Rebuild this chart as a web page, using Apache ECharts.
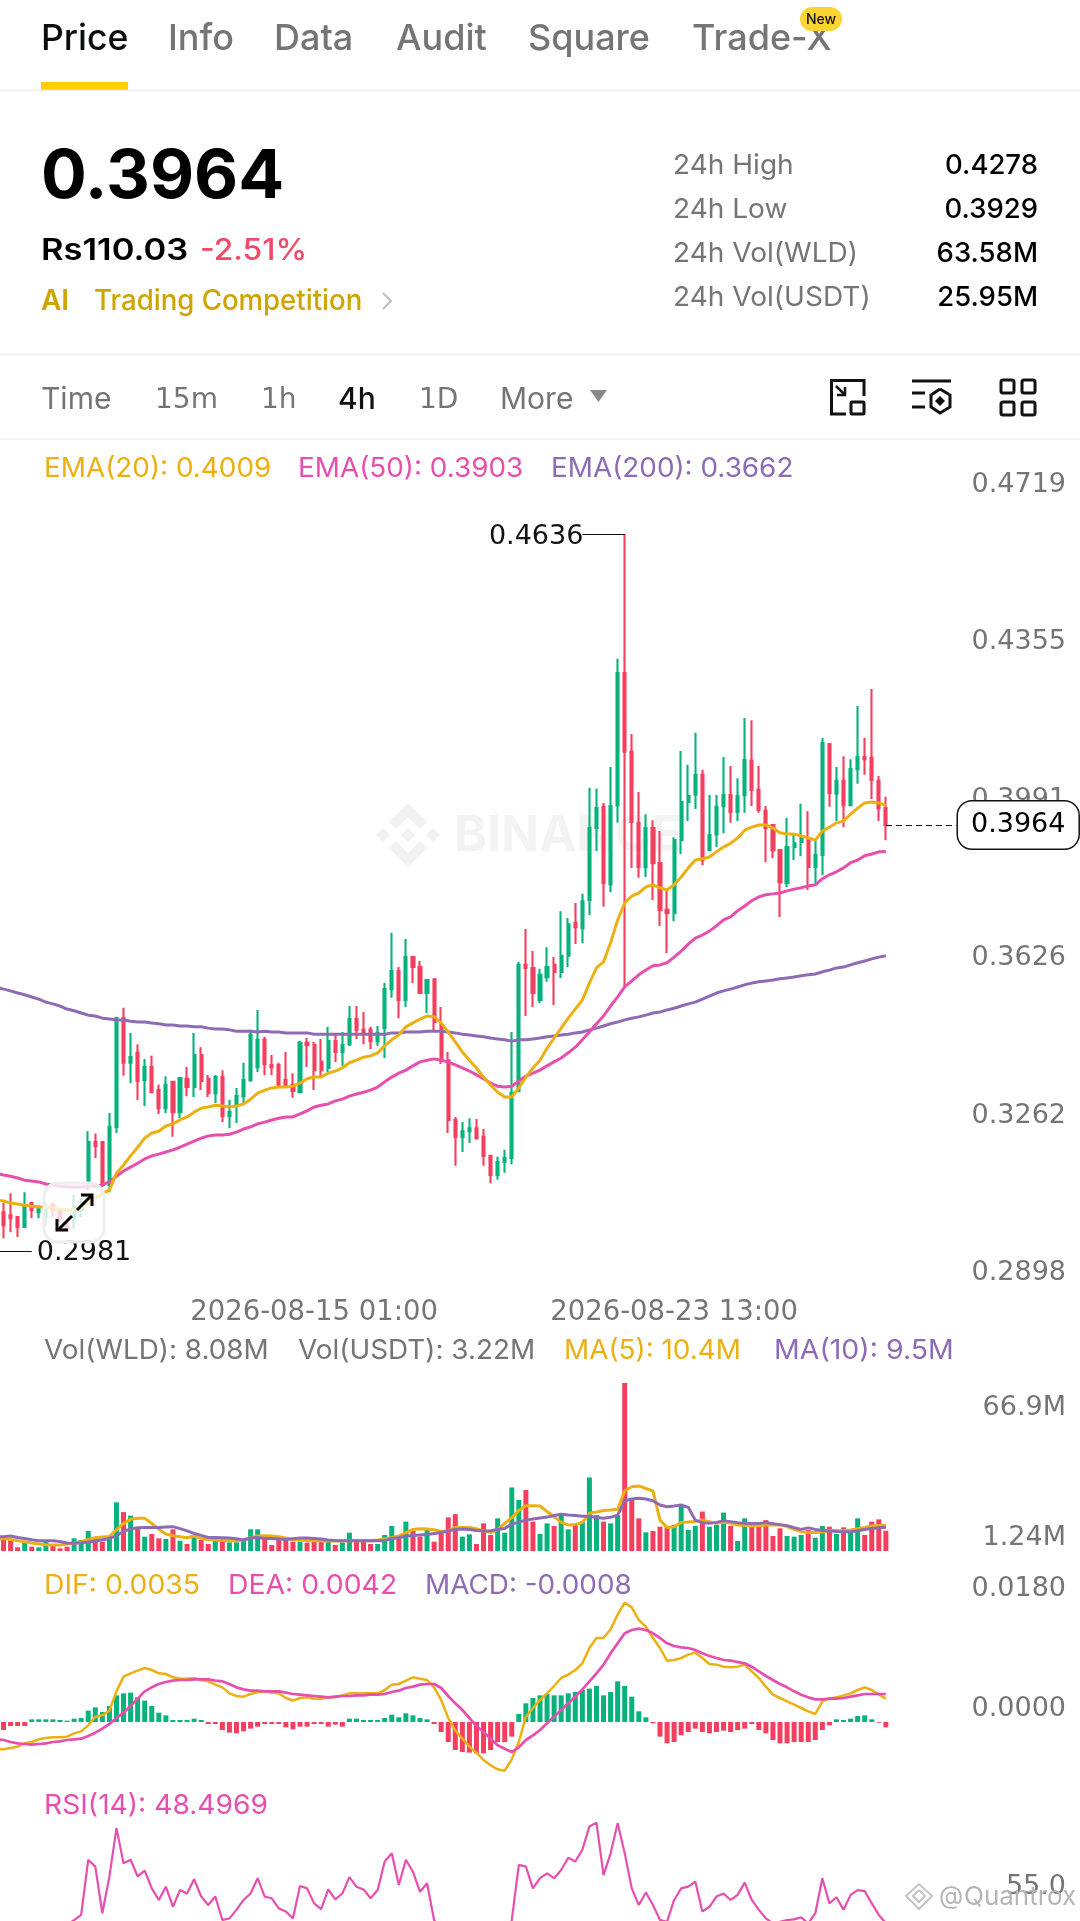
<!DOCTYPE html>
<html><head><meta charset="utf-8">
<style>html,body{margin:0;padding:0;background:#fff}#c{width:1080px;height:1921px}</style>
<script src="https://cdn.jsdelivr.net/npm/echarts@6/dist/echarts.min.js"></script>
</head><body><div id="c"></div>
<script>
const opens=[.3063,
.3070,.3063,.3059,.3036,.3091,.3070,.3059,.3086,.3075,.3043,
.3056,.3075,.3140,.3232,.3232,.3133,.3267,.3518,.3415,.3438,
.3375,.3405,.3352,.3310,.3371,.3301,.3378,.3359,.3433,.3378,
.3345,.3382,.3292,.3317,.3338,.3375,.3405,.3468,.3410,.3410,
.3375,.3364,.3347,.3461,.3456,.3417,.3403,.3465,.3440,.3458,
.3516,.3491,.3491,.3465,.3495,.3585,.3627,.3560,.3659,.3636,
.3576,.3608,.3498,.3421,.3283,.3244,.3257,.3264,.3244,.3200,
.3156,.3186,.3195,.3350,.3641,.3634,.3560,.3613,.3641,.3625,
.3662,.3738,.3726,.3791,.3957,.4006,.3827,.4010,.4315,.4133,
.3969,.3867,.3957,.3876,.3768,.3761,.3929,.4017,.4034,.4080,
.3906,.3943,.4008,.4033,.3994,.4033,.4112,.4045,.3997,.3964,
.3906,.3830,.3913,.3925,.3934,.3867,.3895,.4151,.4036,.4066,
.4010,.4093,.4121,.4119,.4066,.4003];
const closes=[.3017,
.3040,.3056,.3036,.3082,.3075,.3080,.3080,.3075,.3056,.3029,
.3082,.3082,.3232,.3223,.3133,.3267,.3518,.3415,.3428,.3373,
.3405,.3347,.3310,.3364,.3301,.3380,.3359,.3433,.3373,.3345,
.3382,.3292,.3301,.3338,.3375,.3479,.3468,.3412,.3405,.3364,
.3364,.3350,.3461,.3456,.3398,.3398,.3465,.3440,.3456,.3516,
.3491,.3481,.3465,.3484,.3585,.3627,.3560,.3659,.3636,.3576,
.3606,.3509,.3424,.3283,.3244,.3257,.3264,.3241,.3200,.3156,
.3186,.3195,.3345,.3641,.3634,.3576,.3618,.3636,.3625,.3662,
.3735,.3728,.3788,.3957,.4003,.3830,.4008,.4315,.4133,.3971,
.3867,.3957,.3876,.3768,.3761,.3929,.4017,.4031,.4080,.3883,
.3941,.4006,.4033,.3994,.4031,.4114,.4045,.3999,.3957,.3906,
.3832,.3913,.3922,.3932,.3867,.3895,.4153,.4038,.4066,.4010,
.4093,.4121,.4116,.4068,.4003,.3964];
const lows=[.2981,
.3010,.3024,.3013,.3036,.3056,.3056,.3040,.3059,.3045,.3029,
.3031,.3059,.3121,.3195,.3128,.3116,.3253,.3385,.3368,.3329,
.3315,.3347,.3297,.3299,.3244,.3287,.3338,.3336,.3352,.3336,
.3322,.3278,.3264,.3276,.3317,.3371,.3394,.3387,.3387,.3357,
.3364,.3334,.3345,.3405,.3352,.3382,.3394,.3417,.3408,.3454,
.3470,.3458,.3447,.3454,.3426,.3565,.3518,.3544,.3599,.3574,
.3530,.3486,.3412,.3253,.3177,.3209,.3230,.3237,.3177,.3137,
.3145,.3161,.3181,.3347,.3523,.3544,.3553,.3602,.3548,.3611,
.3636,.3689,.3691,.3756,.3904,.3775,.3809,.3969,.3590,.3865,
.3842,.3844,.3791,.3731,.3668,.3742,.3897,.3973,.4001,.3871,
.3904,.3913,.3945,.3969,.3973,.3992,.4008,.3992,.3878,.3887,
.3751,.3821,.3883,.3892,.3814,.3830,.3848,.4006,.3973,.3959,
.4008,.4059,.4080,.4024,.3973,.3929];
const highs=[.3086,
.3091,.3114,.3059,.3116,.3093,.3086,.3091,.3093,.3075,.3045,
.3111,.3103,.3257,.3252,.3232,.3299,.3521,.3542,.3484,.3458,
.3424,.3431,.3364,.3384,.3371,.3382,.3405,.3484,.3451,.3387,
.3387,.3398,.3329,.3357,.3415,.3491,.3537,.3475,.3433,.3415,
.3440,.3391,.3465,.3472,.3463,.3470,.3498,.3484,.3486,.3546,
.3546,.3532,.3498,.3500,.3599,.3715,.3636,.3701,.3662,.3650,
.3606,.3608,.3544,.3440,.3290,.3278,.3287,.3285,.3262,.3200,
.3198,.3214,.3486,.3648,.3724,.3673,.3632,.3682,.3659,.3765,
.3749,.3784,.3805,.4050,.4048,.4015,.4098,.4348,.4636,.4174,
.4040,.3989,.3975,.3950,.3814,.3936,.4135,.4103,.4177,.4091,
.4033,.4033,.4121,.4100,.4072,.4211,.4206,.4100,.4008,.3966,
.3908,.3980,.3945,.4013,.3996,.3929,.4165,.4153,.4098,.4123,
.4116,.4239,.4165,.4278,.4077,.4029];
const ema20=[.3098,
.3096,.3091,.3089,.3086,.3084,.3082,.3082,.3080,.3077,.3075,
.3075,.3080,.3091,.3103,.3114,.3121,.3160,.3179,.3200,.3220,
.3241,.3253,.3257,.3269,.3274,.3283,.3290,.3301,.3310,.3313,
.3317,.3315,.3313,.3315,.3320,.3331,.3345,.3352,.3357,.3359,
.3359,.3361,.3368,.3378,.3382,.3382,.3391,.3396,.3403,.3415,
.3421,.3428,.3431,.3438,.3454,.3468,.3479,.3498,.3507,.3516,
.3523,.3521,.3507,.3486,.3463,.3440,.3421,.3403,.3382,.3364,
.3347,.3336,.3336,.3357,.3382,.3403,.3421,.3449,.3472,.3495,
.3518,.3539,.3560,.3599,.3634,.3648,.3692,.3745,.3784,.3800,
.3807,.3821,.3826,.3819,.3814,.3826,.3844,.3865,.3883,.3886,
.3890,.3902,.3913,.3922,.3934,.3952,.3959,.3964,.3964,.3957,
.3946,.3943,.3943,.3939,.3934,.3929,.3950,.3959,.3969,.3973,
.3989,.4003,.4015,.4017,.4015,.4009];
const ema50=[.3160,
.3156,.3153,.3149,.3144,.3142,.3140,.3135,.3133,.3130,.3128,
.3128,.3128,.3130,.3130,.3133,.3140,.3153,.3165,.3174,.3183,
.3193,.3200,.3204,.3209,.3214,.3220,.3227,.3234,.3241,.3246,
.3248,.3248,.3250,.3255,.3262,.3267,.3274,.3278,.3283,.3287,
.3290,.3290,.3297,.3304,.3313,.3317,.3320,.3327,.3331,.3338,
.3343,.3347,.3352,.3359,.3371,.3382,.3391,.3398,.3408,.3417,
.3421,.3424,.3421,.3417,.3410,.3403,.3396,.3387,.3378,.3368,
.3361,.3359,.3361,.3373,.3384,.3391,.3398,.3408,.3417,.3426,
.3438,.3451,.3468,.3486,.3505,.3523,.3546,.3567,.3590,.3604,
.3618,.3629,.3639,.3641,.3646,.3659,.3673,.3689,.3703,.3710,
.3719,.3731,.3745,.3752,.3766,.3777,.3789,.3798,.3803,.3805,
.3807,.3812,.3816,.3819,.3823,.3826,.3840,.3849,.3856,.3865,
.3877,.3883,.3893,.3897,.3902,.3903];
const ema200=[.3590,
.3585,.3581,.3576,.3572,.3567,.3562,.3555,.3551,.3546,.3539,
.3535,.3530,.3525,.3523,.3518,.3516,.3514,.3514,.3511,.3509,
.3509,.3507,.3505,.3502,.3502,.3500,.3500,.3498,.3498,.3495,
.3493,.3493,.3491,.3488,.3488,.3488,.3486,.3488,.3486,.3486,
.3484,.3484,.3484,.3484,.3481,.3481,.3481,.3481,.3481,.3481,
.3481,.3481,.3481,.3481,.3481,.3484,.3484,.3486,.3486,.3486,
.3488,.3488,.3488,.3486,.3484,.3481,.3479,.3477,.3475,.3472,
.3470,.3468,.3465,.3468,.3468,.3470,.3472,.3475,.3477,.3479,
.3481,.3484,.3486,.3491,.3495,.3500,.3505,.3509,.3514,.3518,
.3521,.3525,.3530,.3532,.3537,.3541,.3546,.3551,.3555,.3562,
.3569,.3576,.3581,.3585,.3590,.3595,.3599,.3602,.3604,.3606,
.3609,.3611,.3613,.3616,.3618,.3620,.3625,.3629,.3634,.3636,
.3641,.3646,.3650,.3655,.3659,.3662];
const volumes=[4.4,
5.04,4.11,1.46,3.45,1.73,1.46,3.72,2.26,1.06,1.73,
5.04,4.38,7.96,5.04,3.72,5.04,19.4,15.5,14.1,9.02,
5.71,6.77,5.04,4.78,8.63,4.11,2.79,5.71,4.38,2.79,
4.38,4.64,3.45,3.45,4.11,8.63,8.63,5.04,2.39,5.04,
5.04,3.72,3.72,3.32,3.72,3.72,3.72,2.39,3.32,7.3,
3.72,3.72,2.79,2.79,6.37,9.95,5.04,11.7,7.96,5.71,
8.63,3.72,7.03,13.4,14.7,5.71,6.64,2.79,11,6.37,
13,7.3,25.3,20.3,24.3,11.7,6.77,11,9.95,14.1,
8.63,10.4,11.7,29.3,14.3,11.7,11,14.3,66.9,20.3,
13,7.43,7.96,9.69,9.42,10.4,17.9,8.36,9.95,15.7,
9.69,10.4,15.3,9.95,3.98,13,10.4,9.69,12.3,5.97,
9.02,5.97,5.71,6.37,8.36,5.31,9.95,9.69,6.77,9.42,
7.3,13,6.37,11.7,12.6,8.08];
const ma5=[4.6,
5.0,4.6,4.1,3.7,3.2,2.8,2.5,2.4,2.4,2.8,
3.1,3.7,4.6,5.3,5.6,5.8,8.4,11,12.6,13,
13,11,8.6,6.8,6.1,5.7,5.3,6,5,4.6,
4.4,4.2,4.1,4.1,4.4,5.3,6,6.1,6,5.7,
5.2,4.6,4.4,4.2,4.1,4.1,4,4,4,4.1,
4.1,4.1,4.1,4.4,4.8,5.3,6,7.3,8.6,8.9,
8.8,8.5,7.8,8,9.4,9.4,9.4,8.9,8,7.3,
8.6,11,13.3,16.1,18,18,17.9,15.7,13.7,11.4,
10.4,10.6,11.3,15,15.5,16.1,16.3,16.6,24,25.6,
25.9,24.9,23.9,12.3,9.4,9.7,11.3,11.5,11.7,12.3,
11.7,11,11.4,11,10.4,10.2,10,10.1,10.4,10.4,
10.4,9.7,8.6,7.7,7.4,7.4,7.6,8.2,8.2,8.1,
8.4,8.9,9.4,10,10.2,10.4];
const ma10=[5.7,
5.7,6.0,5.4,5.0,4.5,4.1,4.1,4.1,3.8,3.2,
3.1,3.3,3.6,4.0,4.5,5.0,6.1,7.8,8.8,9.3,
9.4,9.4,9.4,9.6,9.7,8.9,8.0,7.0,6.2,5.4,
5.4,5.3,5.2,4.9,4.4,5.2,5.4,5.0,5.0,4.8,
4.6,4.9,5.2,5.2,5.0,4.8,4.4,4.2,4.1,4.1,
4.1,4.1,4.1,4.1,4.1,5.0,5.3,6.0,6.2,6.4,
6.6,7.0,7.4,8.0,8.6,8.8,8.6,8.2,8.0,8.1,
8.6,9.0,10.7,11.5,12.3,12.7,13.1,13.5,14.1,14.6,
14.3,14.1,13.8,13.8,13.3,13,13.4,14.3,20,20.7,
21,20.7,20,18.3,17.6,17.9,18.3,17.4,12.3,11.3,
11,11.4,12.1,11.7,11.3,11,11,11,11.3,10.9,
10.5,10.1,9.3,8.6,9.2,8.6,8.2,8,7.8,7.7,
7.7,8.1,8.6,9,9.3,9.5];
const dif=[-.0041,
-.0041,-.0039,-.0037,-.0032,-.0030,-.0026,-.0024,-.0023,-.0023,-.0022,
-.0017,-.0014,-.0005,.0008,.0010,.0017,.0046,.0068,.0073,.0077,
.0081,.0078,.0073,.0072,.0067,.0065,.0065,.0066,.0063,.0061,
.0056,.0052,.0043,.0039,.0038,.0042,.0045,.0046,.0044,.0043,
.0036,.0032,.0036,.0037,.0035,.0035,.0037,.0037,.0040,.0043,
.0043,.0043,.0043,.0043,.0048,.0056,.0057,.0062,.0067,.0065,
.0063,.0052,.0033,.0006,-.0013,-.0025,-.0037,-.0046,-.0057,-.0065,
-.0071,-.0073,-.0056,-.0030,.0008,.0021,.0033,.0043,.0054,.0066,
.0071,.0078,.0088,.0111,.0126,.0126,.0139,.0161,.0179,.0172,
.0153,.0143,.0126,.0111,.0092,.0093,.0096,.0101,.0104,.0096,
.0087,.0086,.0083,.0082,.0083,.0086,.0076,.0066,.0053,.0041,
.0036,.0031,.0026,.0021,.0016,.0012,.0031,.0035,.0037,.0040,
.0043,.0048,.0052,.0048,.0041,.0035];
const dea=[-.0026,
-.0027,-.0030,-.0032,-.0033,-.0034,-.0033,-.0032,-.0030,-.0029,-.0027,
-.0026,-.0025,-.0021,-.0016,-.0010,-.0003,.0006,.0014,.0024,.0035,
.0046,.0052,.0057,.0060,.0062,.0063,.0063,.0064,.0064,.0064,
.0062,.0061,.0057,.0052,.0049,.0047,.0047,.0046,.0046,.0046,
.0044,.0042,.0041,.0040,.0039,.0038,.0037,.0038,.0039,.0039,
.0040,.0040,.0041,.0041,.0042,.0045,.0047,.0051,.0053,.0056,
.0057,.0057,.0051,.0039,.0028,.0018,.0006,-.0006,-.0015,-.0025,
-.0035,-.0040,-.0045,-.0038,-.0027,-.0020,-.0012,-.0002,.0008,.0018,
.0028,.0038,.0049,.0061,.0073,.0086,.0103,.0118,.0133,.0138,
.0140,.0138,.0133,.0126,.0118,.0114,.0112,.0111,.0108,.0103,
.0099,.0096,.0093,.0092,.0090,.0088,.0083,.0076,.0069,.0063,
.0057,.0052,.0046,.0041,.0037,.0034,.0034,.0035,.0035,.0036,
.0038,.0040,.0042,.0042,.0042,.0042];
const macd=[-.0012,
-.0012,-.0006,-.0006,-.0006,.0004,.0004,.0004,.0004,.0003,.0002,
.0005,.0006,.0017,.0022,.0015,.0024,.0040,.0043,.0044,.0037,
.0032,.0024,.0014,.0010,.0003,.0003,.0003,.0005,.0003,-.0003,
-.0003,-.0012,-.0016,-.0017,-.0014,-.0010,-.0007,-.0003,-.0003,-.0003,
-.0008,-.0011,-.0007,-.0007,-.0003,-.0003,-.0007,-.0004,-.0007,.0005,
.0005,.0003,.0003,.0003,.0006,.0011,.0007,.0013,.0010,.0006,
.0004,-.0003,-.0015,-.0030,-.0042,-.0045,-.0046,-.0047,-.0047,-.0042,
-.0030,-.0030,-.0022,.0012,.0028,.0036,.0040,.0042,.0040,.0040,
.0043,.0045,.0048,.0050,.0054,.0040,.0045,.0061,.0054,.0038,
.0016,.0007,-.0002,-.0022,-.0032,-.0030,-.0020,-.0015,-.0010,-.0015,
-.0017,-.0015,-.0013,-.0015,-.0012,-.0010,-.0003,-.0012,-.0017,-.0027,
-.0032,-.0032,-.0030,-.0030,-.0030,-.0027,-.0012,-.0005,.0004,.0003,
.0005,.0009,.0010,.0004,-.0001,-.0008];
const rsi=[45,
46,44,47,46,45,47,46,48,47,48,
49.4,50.9,67.1,65.1,51.4,62.2,76.4,66.1,67.1,62.2,
63.9,58.7,55.3,59.2,53.3,58.2,57.2,61.4,56.3,53.8,
56.3,49.4,49.9,52.4,55.3,57.2,61.7,56.3,55.8,52.8,
51.9,49.9,59.4,58.7,54.3,52.6,58.4,55.5,57.2,62,
59.2,58.4,55.8,58.2,66.6,69,59.7,67.1,63.6,57.7,
60.2,49.4,46.5,44,38,37,38,37,35,33,
30,31,49.4,65.6,65.1,58.7,61.7,63.1,61.7,64.1,
67.7,66.6,70,76.9,78,62.6,69,77.8,69,58.7,
53.8,57.5,53.8,49.4,48.9,55.3,58.7,59.2,60.7,51.9,
53.3,56.3,57.2,55.3,56.8,60.4,55.3,52.4,49.9,48.4,
48.9,49.4,49.6,50.2,48.4,51.4,61.7,54.3,56.1,52.4,
56.8,58.2,57.9,54.3,50.9,48.5];
const categories=Array.from({length:154},()=>'');
categories[45]='2026-08-15 01:00';categories[96]='2026-08-23 13:00';
const priceTicks=[.2898,.3262,.3626,.3991,.4355,.4719];
const volTicks=[1.24,66.9];
const macdTicks=[0,.018];
const rsiTicks=[55];
const lastPrice=.3964, maxPrice=.4636, minPrice=.2981;

const GREEN='#08b27d',RED='#f43f5e',YEL='#ecb012',MAG='#e64fae',PUR='#8d6bb5',GREY='#757575',F='Inter',AF='"DejaVu Sans"';
const t=(text,x,y,size,fill,weight,align,extra,fam)=>Object.assign({type:'text',x,y:y+2,z:50,silent:true,style:{text,font:`${weight||400} ${size}px ${fam||F}`,fill,textAlign:align||'left',textVerticalAlign:'middle'}},extra||{});
const LEG={scaleX:1.032};
const hl=(y,c,w)=>({type:'line',z:50,silent:true,shape:{x1:0,y1:y,x2:1080,y2:y},style:{stroke:c,lineWidth:w}});
const pl=(pts,w,c,z)=>({type:'polyline',z:z||50,silent:true,shape:{points:pts},style:{stroke:c||'#111',lineWidth:w||3,fill:'none'}});
const pg=(pts,c,z)=>({type:'polygon',z:z===undefined?50:z,silent:true,shape:{points:pts},style:{fill:c}});
const rc=(x,y,w,h,r,o)=>({type:'rect',z:o.z||50,silent:true,shape:{x,y,width:w,height:h,r},style:o.style});
const sq=(x,y,s)=>rc(x,y,s,s,2,{style:{stroke:'#111',lineWidth:3,fill:'none'}});

const g=[
 // watermark
 pg([[408,803],[427,822],[420,829],[408,817],[396,829],[389,822]],'#f2f2f2',0),
 pg([[408,867],[427,848],[420,841],[408,853],[396,841],[389,848]],'#f2f2f2',0),
 pg([[408,828],[415,835],[408,842],[401,835]],'#f2f2f2',0),
 pg([[383,828],[390,835],[383,842],[376,835]],'#f2f2f2',0),
 pg([[433,828],[440,835],[433,842],[426,835]],'#f2f2f2',0),
 t('BINANCE',454,834,50,'#f3f3f3',700,'left',{z:0}),
 // tabs
 t('Price',41,37,35.5,'#0b0e11',500),t('Info',168,37,36,GREY,500),t('Data',274,37,36,GREY,500),
 t('Audit',396,37,36,GREY,500),t('Square',528,37,36,GREY,500),t('Trade-X',692,37,36,GREY,500),
 rc(800,7,42,24,12,{z:51,style:{fill:'#fcd535'}}),
 t('New',821,18,14,'#111',500,'center',{z:52}),
 rc(41,82,87,8,0,{style:{fill:'#fcd000'}}),
 hl(90.5,'#eeeeee',1.5),
 // quote
 t('0.3964',41,176,68,'#000',700),
 t('Rs110.03',41,249,30,'#000',600,'left',{scaleX:1.15}),t('-2.51%',200,249,30,'#ef4b68',500,'left',{scaleX:1.06}),
 t('AI',41,300,28,'#d0a400',600),t('Trading Competition',94,300,28,'#d0a400',500,'left',{scaleX:.985}),
 pl([[383,293],[391,301],[383,309]],2,'#bdbdbd'),
 t('24h High',673,164,27.5,GREY,400,'left',{scaleX:1.02}),t('24h Low',673,208,27.5,GREY,400,'left',{scaleX:1.02}),t('24h Vol(WLD)',673,252,27.5,GREY,400,'left',{scaleX:1.02}),t('24h Vol(USDT)',673,296,27.5,GREY,400,'left',{scaleX:1.02}),
 t('0.4278',1038,164,27.5,'#000',500,'right'),t('0.3929',1038,208,27.5,'#000',500,'right'),
 t('63.58M',1038,252,27.5,'#000',500,'right'),t('25.95M',1038,296,27.5,'#000',500,'right'),
 hl(354.5,'#eeeeee',1.5),
 // intervals
 t('Time',41,398,30,GREY),t('15m',155,399,28,GREY,400,'left',null,AF),t('1h',261,399,28,GREY,400,'left',null,AF),t('4h',338,398,30,'#111',500),
 t('1D',419,399,28,GREY,400,'left',null,AF),t('More',500,398,30,GREY),pg([[590,390],[607,390],[598.5,402]],'#888'),
 hl(439,'#f2f2f2',2),
 // icons
 pl([[864,396],[864,380.5],[831.5,380.5],[831.5,414],[846,414]]),rc(851,402,13,12,1,{style:{stroke:'#111',lineWidth:3,fill:'none'}}),
 pl([[836,386],[845,395]],2.5),pl([[845,387],[845,395],[837,395]],2.5),
 pl([[912,381],[951,381]]),pl([[912,393],[925,393]]),pl([[912,407],[925,407]]),
 pl([[940,389],[950,395],[950,407],[940,413],[931,407],[931,395],[940,389]]),pg([[940,396],[945,401],[940,406],[935,401]],'#111'),
 sq(1001,380,13),sq(1022,380,13),sq(1001,402,13),sq(1022,402,13),
 // legends
 t('EMA(20): 0.4009',44,467,27,YEL,400,'left',LEG),t('EMA(50): 0.3903',298,467,27,MAG,400,'left',LEG),t('EMA(200): 0.3662',551,467,27,PUR,400,'left',LEG),
 t('Vol(WLD): 8.08M',44,1349,27,GREY,400,'left',LEG),t('Vol(USDT): 3.22M',298,1349,27,GREY,400,'left',LEG),t('MA(5): 10.4M',564,1349,27,YEL,400,'left',LEG),t('MA(10): 9.5M',774,1349,27,PUR,400,'left',{scaleX:1.055}),
 t('DIF: 0.0035',44,1584,27,YEL,400,'left',{scaleX:1.05}),t('DEA: 0.0042',228,1584,27,MAG,400,'left',{scaleX:1.05}),t('MACD: -0.0008',425,1584,27,PUR,400,'left',LEG),
 t('RSI(14): 48.4969',44,1804,27,MAG,400,'left',{scaleX:1.045}),
 // expand control
 rc(44,1183,60,59,14,{z:100,style:{fill:'rgba(255,255,255,.78)',stroke:'#eeeeee',lineWidth:3}}),
 pl([[77,1210],[91,1196]],3,'#000',101),pl([[81,1195],[92,1195],[92,1206]],3,'#000',101),
 pl([[72,1216],[58,1230]],3,'#000',101),pl([[57,1219],[57,1230],[68,1230]],3,'#000',101),
 // credit
 pl([[919,1884],[932,1896],[919,1909],[906,1896],[919,1884]],2,'#c4c4c4',60),
 pl([[919,1890],[925,1896],[919,1902],[913,1896],[919,1890]],2,'#c4c4c4',60),
 t('@',939,1894,25,'#b5b5b5',400,'left',{z:60}),
 t('Quantrox',964,1895,26,'#b5b5b5',400,'left',{z:60})
];

const xA=(i,show)=>({type:'category',gridIndex:i,data:categories,boundaryGap:true,show:show,
  axisLine:{show:false},axisTick:{show:false},splitLine:{show:false},
  axisLabel:{show:show,interval:(idx,v)=>v!=='',color:GREY,fontSize:27.5,fontFamily:AF,margin:12}});
const yA=(i,min,max,ticks,fmt)=>({type:'value',gridIndex:i,position:'right',min,max,
  axisLine:{show:false},axisTick:{show:false},splitLine:{show:false},
  axisLabel:{show:!!ticks,inside:true,margin:14,customValues:ticks||undefined,formatter:fmt,color:GREY,fontSize:27,fontFamily:AF,align:'right',verticalAlign:'bottom',lineHeight:27}});
const line=(d,c,w,xi,nm)=>({type:'line',name:nm,data:d,xAxisIndex:xi,yAxisIndex:xi,showSymbol:false,symbol:'none',silent:true,lineStyle:{color:c,width:w},itemStyle:{color:c},z:4});
const dir=i=>closes[i]>=opens[i]?GREEN:RED;

const annot=(label,pos,off)=>({show:true,formatter:label,position:pos,distance:1,offset:off,color:'#111',fontSize:27,fontFamily:AF});
const candle={type:'candlestick',xAxisIndex:0,yAxisIndex:0,silent:true,barWidth:2.7,z:3,
  data:opens.map((o,i)=>[o,closes[i],lows[i],highs[i]]),
  itemStyle:{color:GREEN,color0:RED,borderColor:GREEN,borderColor0:RED,borderWidth:2.1},
  markLine:{silent:true,symbol:'none',animation:false,z:6,data:[
    [{coord:[83,maxPrice],label:annot(String(maxPrice),'start',[2,3]),lineStyle:{color:'#111',width:1.2,type:'solid'}},{coord:[89,maxPrice]}],
    [{coord:[0,minPrice],label:annot(String(minPrice),'end',[4,2.5]),lineStyle:{color:'#111',width:1.2,type:'solid'}},{coord:[5,minPrice]}],
    [{coord:[126,lastPrice],lineStyle:{color:'#111',width:1.2,type:[6,4]},
      label:{show:true,position:'end',distance:0,offset:[1.5,0],formatter:String(lastPrice),color:'#000',fontSize:27,fontFamily:AF,backgroundColor:'#fff',borderColor:'#111',borderWidth:1.5,borderRadius:14,padding:[11,13,9,13]}},{coord:[136,lastPrice]}]
  ]}};

const grid=(top,height)=>({left:-7.06,width:1087.06,top,height,outerBoundsMode:'none'});
const chart=echarts.init(document.getElementById('c'),null,{width:1080,height:1921,renderer:'canvas'});
chart.setOption({
 animation:false,backgroundColor:'#fff',
 grid:[grid(498,788.7),grid(1383,168),grid(1421,130),grid(1602,180),grid(1822,99)],
 xAxis:[xA(0,true),xA(1,false),xA(2,false),xA(3,false),xA(4,false)],
 yAxis:[
  yA(0,priceTicks[0],priceTicks[5],priceTicks,v=>v.toFixed(4)),
  yA(1,0,66.9,null),
  yA(2,volTicks[0],volTicks[1],volTicks,v=>v+'M'),
  yA(3,-.009,.018,macdTicks,v=>v.toFixed(4)),
  yA(4,49.12,78.2,rsiTicks,v=>v.toFixed(1))
 ],
 series:[
  candle,
  line(ema200,PUR,3,0,'EMA200'),line(ema50,MAG,3,0,'EMA50'),line(ema20,YEL,3,0,'EMA20'),
  {type:'bar',xAxisIndex:1,yAxisIndex:1,silent:true,barWidth:5,data:volumes.map((v,i)=>({value:v,itemStyle:{color:dir(i)}}))},
  line(ma5,YEL,3,1,'MA5'),line(ma10,PUR,3,1,'MA10'),
  {type:'bar',xAxisIndex:3,yAxisIndex:3,silent:true,barWidth:5,data:macd.map(v=>({value:v,itemStyle:{color:v>=0?GREEN:RED}}))},
  line(dif,YEL,2.5,3,'DIF'),line(dea,MAG,2.7,3,'DEA'),
  line(rsi,MAG,2.2,4,'RSI')
 ],
 graphic:{elements:g}
});
</script></body></html>
